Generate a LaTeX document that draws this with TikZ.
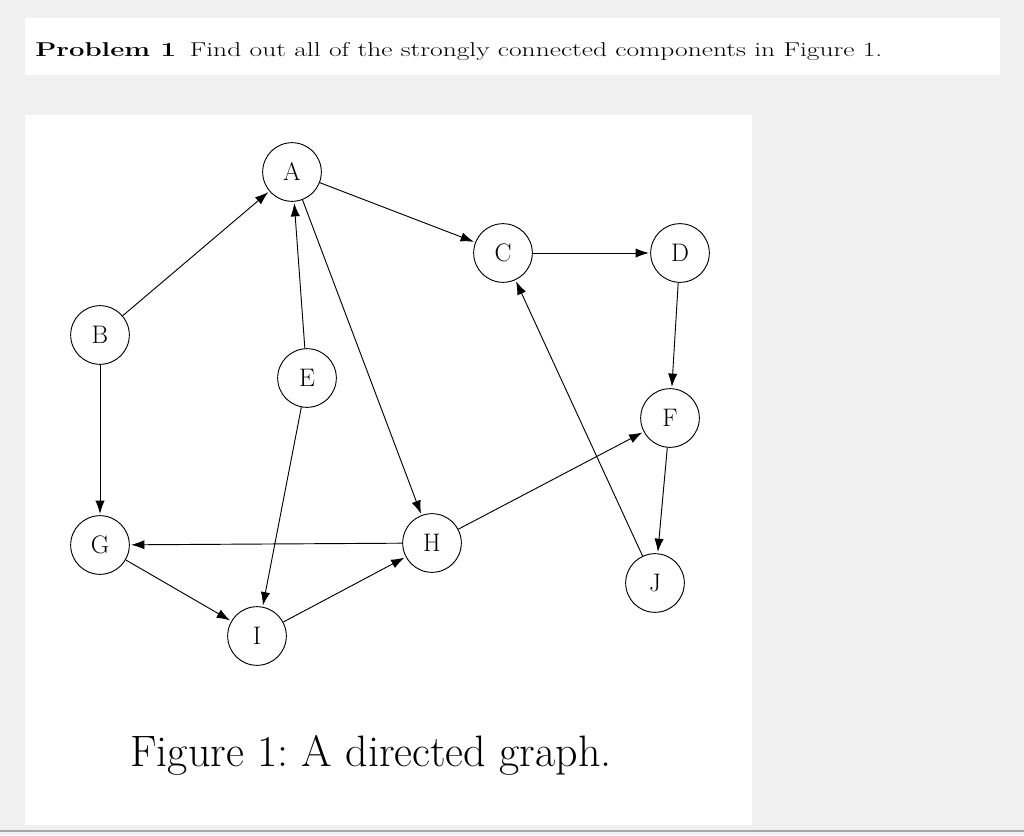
\documentclass[tikz,border=0pt]{standalone}
\usetikzlibrary{arrows.meta}
\begin{document}
\begin{tikzpicture}[x=0.75pt,y=-0.75pt,
  vtx/.style={circle,draw,line width=0.7pt,minimum size=44pt,inner sep=0pt,font=\fontsize{19}{19}\selectfont,fill=white},
  arr/.style={-{Latex[length=10pt,width=7pt]},line width=0.7pt,shorten >=1pt}]
\fill[gray!12] (0,0) rectangle (1024,835);
\useasboundingbox (0,0) rectangle (1024,835);
\fill[white] (25,18) rectangle (1000,75);
\fill[white] (25,115) rectangle (752,825);
\draw[gray!70,line width=1.5pt] (0,831) -- (1024,831);
\node[anchor=west,font=\fontsize{15}{15}\selectfont,inner sep=0pt] (t) at (35,52) {\scalebox{1.375}[1]{\textbf{Problem 1}\enspace Find out all of the strongly connected components in Figure 1.}};
\node[font=\fontsize{33}{33}\selectfont] (cap) at (371,755) {Figure 1:\ A directed graph.};
\node[vtx] (A) at (292,172) {A};
\node[vtx] (C) at (503,253) {C};
\node[vtx] (D) at (680,253) {D};
\node[vtx] (B) at (100,335) {B};
\node[vtx] (E) at (307,378) {E};
\node[vtx] (F) at (670,418) {F};
\node[vtx] (G) at (100,545) {G};
\node[vtx] (H) at (432,543) {H};
\node[vtx] (J) at (655,583) {J};
\node[vtx] (I) at (257,636) {I};
\draw[arr] (B) -- (A);
\draw[arr] (A) -- (C);
\draw[arr] (C) -- (D);
\draw[arr] (D) -- (F);
\draw[arr] (F) -- (J);
\draw[arr] (J) -- (C);
\draw[arr] (A) -- (H);
\draw[arr] (E) -- (A);
\draw[arr] (E) -- (I);
\draw[arr] (B) -- (G);
\draw[arr] (H) -- (G);
\draw[arr] (G) -- (I);
\draw[arr] (I) -- (H);
\draw[arr] (H) -- (F);
\end{tikzpicture}
\end{document}
